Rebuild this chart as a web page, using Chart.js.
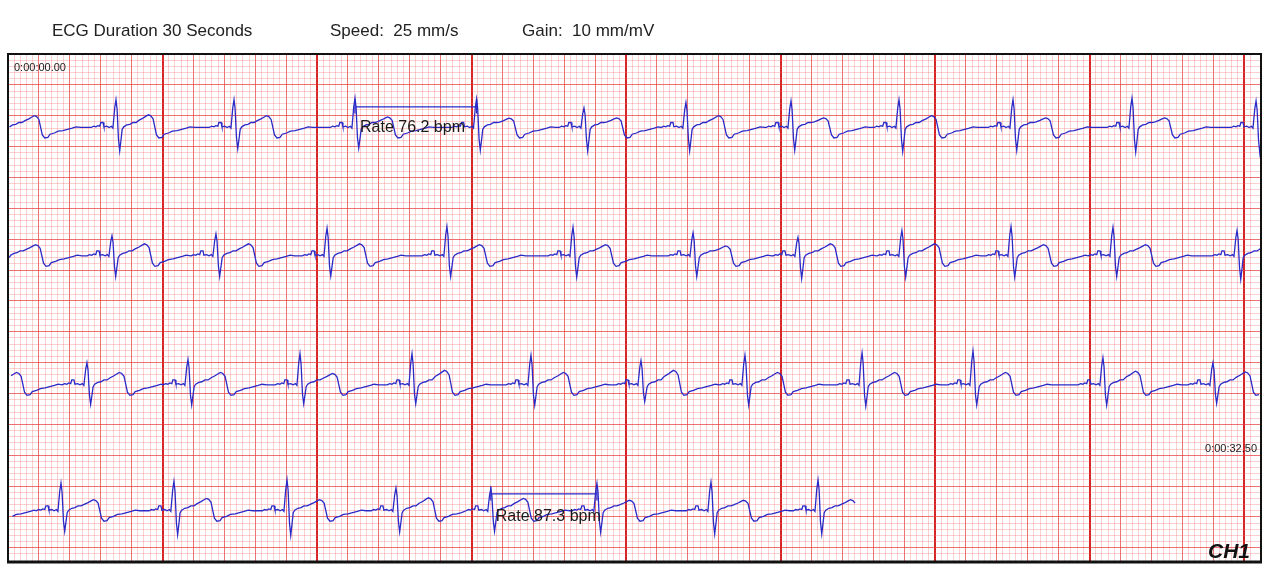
<!DOCTYPE html>
<html>
<head>
<meta charset="utf-8">
<title>ECG strip</title>
<script src="https://cdn.jsdelivr.net/npm/chart.js@4.4.0/dist/chart.umd.min.js"></script>
<style>
    html, body { margin: 0; padding: 0; background: #fff; }
    #wrap { position: relative; width: 1280px; height: 577px; overflow: hidden; }
    #ecgChart { position: absolute; left: 0; top: 0; }
    .hdr { position: absolute; top: 21px; font: 17px/20px "Liberation Sans", Arial, sans-serif; color: #222; white-space: pre; }
</style>
</head>
<body>
<div id="wrap">
    <canvas id="ecgChart" width="1280" height="577"></canvas>
    <div class="hdr" style="left:52px">ECG Duration 30 Seconds</div>
    <div class="hdr" style="left:330px">Speed:  25 mm/s</div>
    <div class="hdr" style="left:522px">Gain:  10 mm/mV</div>
</div>
<script>
// strip is 25 mm/s, 10 mm/mV -> x in seconds, amplitudes in mm (1 mm = 0.1 mV)
var rowSeconds = 8.11;
var lastRowSeconds = 5.49;

// one beat as it looks on the strip, time relative to the R peak
// part: r / s / t get scaled per beat, the rest is kept as is
var tplTime  = [-0.160, -0.145, -0.130, -0.118, -0.105, -0.098, -0.084, -0.078, -0.060, -0.045, -0.030, -0.020,
                -0.008, 0.000, 0.007, 0.016, 0.024, 0.031, 0.040, 0.050, 0.070, 0.090, 0.110, 0.130,
                0.150, 0.175, 0.195, 0.210, 0.225, 0.240, 0.262, 0.278, 0.298, 0.312, 0.340, 0.365,
                0.395, 0.425, 0.455, 0.480, 0.510];
var tplValue = [0.0, 0.2, 0.1, 0.3, 0.2, 0.8, 0.8, 0.1, 0.2, 0.0, 0.2, -0.1,
                3.2, 4.5, 3.0, -1.8, -3.6, -2.2, -0.3, 0.1, 0.4, 0.5, 0.8, 0.8,
                1.1, 1.4, 1.7, 1.9, 1.75, 1.3, -1.2, -1.7, -1.6, -1.1, -0.9, -0.6,
                -0.5, -0.3, -0.1, 0.1, 0.0];
var tplPart  = ["", "", "", "", "", "", "", "", "", "", "", "",
                "r", "r", "r", "s", "s", "s", "", "", "", "", "", "",
                "t", "t", "t", "t", "t", "t", "", "", "", "", "", "",
                "", "", "", "", ""];
var tplR = 4.5, tplS = -3.6, tplT = 1.9;

// R-peak times per strip row (s from row start); the first one is the beat
// carried over from the previous row, only its tail shows
var beats1 = [-0.040, 0.699, 1.463, 2.246, 3.033, 3.728, 4.388, 5.068, 5.767, 6.505, 7.275, 8.078];
var rAmp1  = [4.5, 4.5, 4.5, 4.75, 4.65, 3.15, 4.05, 4.3, 4.5, 4.5, 4.75, 4.3];
var sAmp1  = [-3.6, -3.8, -3.45, -3.35, -3.7, -3.8, -3.8, -3.7, -3.9, -3.7, -4.0, -4.05];
var tAmp1  = [1.9, 2.05, 1.9, 1.7, 1.5, 1.55, 1.9, 1.55, 1.9, 1.55, 1.55, 1.8];

var beats2 = [-0.032, 0.673, 1.346, 2.065, 2.841, 3.657, 4.434, 5.113, 5.786, 6.492, 7.152, 7.955];
var rAmp2  = [4.3, 3.25, 3.55, 4.5, 4.75, 4.65, 3.75, 3.0, 4.1, 4.75, 4.65, 4.1];
var sAmp2  = [-4.05, -3.35, -3.35, -3.25, -3.35, -3.45, -3.35, -3.7, -3.45, -3.45, -3.35, -3.8];
var tAmp2  = [1.8, 1.95, 1.95, 1.95, 1.8, 1.8, 1.6, 1.95, 1.95, 1.8, 1.8, 2.0];

var beats3 = [-0.155, 0.511, 1.165, 1.890, 2.615, 3.385, 4.097, 4.770, 5.528, 6.246, 7.087, 7.799];
var rAmp3  = [4.1, 3.6, 4.1, 5.05, 5.05, 4.8, 3.95, 4.8, 5.2, 5.5, 4.4, 3.6];
var sAmp3  = [-3.8, -3.15, -3.25, -3.05, -3.05, -3.3, -2.7, -3.25, -3.45, -3.25, -3.3, -3.0];
var tAmp3  = [2.0, 2.0, 2.0, 1.85, 2.35, 2.0, 2.35, 2.0, 2.0, 2.0, 2.2, 2.1];

var beats4 = [-0.311, 0.343, 1.074, 1.806, 2.511, 3.125, 3.812, 4.550, 5.243];
var rAmp4  = [3.6, 4.5, 4.75, 5.0, 3.7, 3.55, 4.5, 4.65, 5.0];
var sAmp4  = [-3.0, -3.35, -3.9, -4.0, -3.45, -3.35, -3.5, -3.75, -3.75];
var tAmp4  = [2.1, 1.8, 2.0, 1.8, 2.1, 2.0, 1.7, 1.7, 1.8];

// calipers: row, beat index from / to
var rateMarks = [
    { row: 0, from: 3, to: 4, text: "Rate 76.2 bpm", level: 3.35, textDrop: 0.1 },
    { row: 3, from: 5, to: 6, text: "Rate 87.3 bpm", level: 2.75, textDrop: 1.0 }
];
var startLabel = "0:00:00.00";
var endLabel = "0:00:32.50";
var channelLabel = "CH1";

var rowBase = [11.9, 32.7, 53.6, 74.0];   // baseline of each row, mm from top
var paperHeight = 82.3;
var traceColor = "#2a2ac8";
// see-through so crossings don't chop the heavier lines
var smallGrid = "rgba(238,110,110,0.32)", midGrid = "rgba(232,60,60,0.72)", darkGrid = "rgba(212,25,25,0.95)";
var FONT = '"Liberation Sans", Arial, sans-serif';

function buildRow(beats, rAmp, sAmp, tAmp, base, end) {
    var pts = [];
    for (var i = 0; i < beats.length; i++) {
        var limit = i + 1 < beats.length ? beats[i + 1] + tplTime[0] : Infinity;
        for (var k = 0; k < tplTime.length; k++) {
            var t = beats[i] + tplTime[k];
            if (t >= limit) break;
            if (t < 0.005 || t > end) continue;
            var v = tplValue[k];
            if (tplPart[k] == "r") v = v * rAmp[i] / tplR;
            else if (tplPart[k] == "s") v = v * sAmp[i] / tplS;
            else if (tplPart[k] == "t") v = v * tAmp[i] / tplT;
            pts.push({ x: Math.round(t * 1000) / 1000, y: base - v });
        }
    }
    return pts;
}

var rows = [
    buildRow(beats1, rAmp1, sAmp1, tAmp1, rowBase[0], rowSeconds),
    buildRow(beats2, rAmp2, sAmp2, tAmp2, rowBase[1], rowSeconds),
    buildRow(beats3, rAmp3, sAmp3, tAmp3, rowBase[2], rowSeconds),
    buildRow(beats4, rAmp4, sAmp4, tAmp4, rowBase[3], lastRowSeconds)
];
var rowBeats = [beats1, beats2, beats3, beats4];

var stripDecor = {
    id: "stripDecor",
    afterDatasetsDraw: function (chart) {
        var ctx = chart.ctx, a = chart.chartArea;
        var xs = chart.scales.x, ys = chart.scales.y;
        ctx.save();

        rateMarks.forEach(function (m) {
            var b = rowBeats[m.row];
            var x1 = xs.getPixelForValue(b[m.from]);
            var x2 = xs.getPixelForValue(b[m.to]);
            var base = rowBase[m.row];
            var yl = ys.getPixelForValue(base - m.level);
            var yt = ys.getPixelForValue(base - m.level - 1.2);
            var yb = ys.getPixelForValue(base - m.level + 1.1);
            ctx.strokeStyle = traceColor;
            ctx.lineWidth = 1.3;
            ctx.beginPath();
            ctx.moveTo(x1, yt); ctx.lineTo(x1, yb);
            ctx.moveTo(x2, yt); ctx.lineTo(x2, yb);
            ctx.moveTo(x1, yl); ctx.lineTo(x2, yl);
            ctx.stroke();
            ctx.fillStyle = "#1a1a1a";
            ctx.font = "16px " + FONT;
            ctx.textAlign = "left";
            ctx.textBaseline = "middle";
            ctx.fillText(m.text, x1 + 5, ys.getPixelForValue(base + m.textDrop));
        });

        ctx.fillStyle = "#1a1a1a";
        ctx.font = "11px " + FONT;
        ctx.textBaseline = "middle";
        ctx.textAlign = "left";
        ctx.fillText(startLabel, a.left + 6, a.top + 14);
        ctx.textAlign = "right";
        ctx.fillText(endLabel, a.right - 4, ys.getPixelForValue(rowBase[3] - 10));

        ctx.font = "italic bold 21px " + FONT;
        ctx.textBaseline = "alphabetic";
        ctx.fillStyle = "#111";
        ctx.fillText(channelLabel, a.right - 11, a.bottom - 4);

        // paper edge
        ctx.strokeStyle = "#111";
        ctx.lineWidth = 2;
        ctx.strokeRect(a.left, a.top, a.right - a.left, a.bottom - a.top);
        ctx.lineWidth = 3;
        ctx.beginPath();
        ctx.moveTo(a.left - 1, a.bottom);
        ctx.lineTo(a.right + 1, a.bottom);
        ctx.stroke();
        ctx.restore();
    }
};

var chart = new Chart("ecgChart", {
    type: "line",
    data: {
        datasets: rows.map(function (r) {
            return {
                data: r,
                borderColor: traceColor,
                borderWidth: 1.3,
                pointRadius: 0,
                fill: false,
                tension: 0
            };
        })
    },
    options: {
        responsive: false,
        animation: false,
        events: [],
        layout: { padding: { left: 8, top: 54, right: 19, bottom: 15 } },
        plugins: {
            legend: { display: false },
            tooltip: { enabled: false },
            title: { display: false }
        },
        scales: {
            x: {
                type: "linear",
                min: 0,
                max: rowSeconds,
                ticks: { display: false, stepSize: 0.04 },
                border: { display: false },
                grid: {
                    drawTicks: false,
                    color: function (c) {
                        if (!c.tick) return smallGrid;
                        var n = Math.round(c.tick.value / 0.04);
                        return n % 25 === 0 ? darkGrid : n % 5 === 0 ? midGrid : smallGrid;
                    },
                    lineWidth: function (c) {
                        if (!c.tick) return 1;
                        return Math.round(c.tick.value / 0.04) % 25 === 0 ? 2 : 1;
                    }
                }
            },
            y: {
                type: "linear",
                reverse: true,
                min: 0,
                max: paperHeight,
                ticks: { display: false, stepSize: 1 },
                border: { display: false },
                grid: {
                    drawTicks: false,
                    color: function (c) {
                        if (!c.tick) return smallGrid;
                        return Math.round(c.tick.value) % 5 === 0 ? midGrid : smallGrid;
                    },
                    lineWidth: 1
                }
            }
        }
    },
    plugins: [stripDecor]
});
</script>
</body>
</html>
